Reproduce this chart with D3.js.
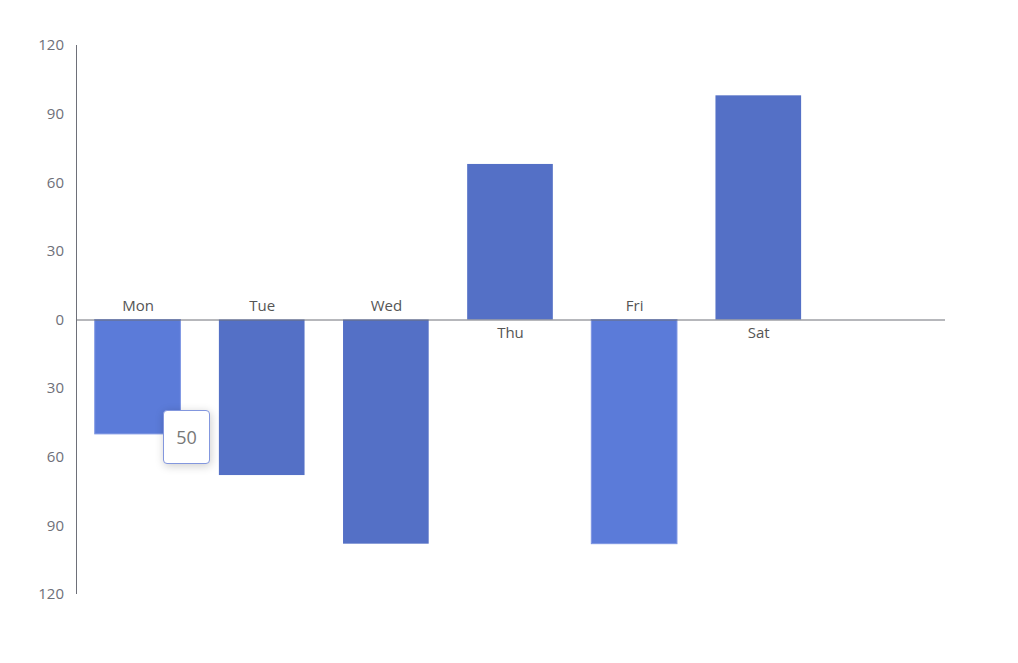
<!DOCTYPE html>
<html>
<head>
<meta charset="utf-8">
<script src="https://cdn.jsdelivr.net/npm/d3@7/dist/d3.min.js"></script>
<style>
  html, body { margin: 0; padding: 0; background: #fff; }
  #chart { position: relative; width: 1018px; height: 663px; }
  .tip {
    position: absolute; background: #fff; border: 1px solid #8397de; border-radius: 4px;
    box-shadow: 1px 2px 10px rgba(0,0,0,0.2); color: #777; font: 18px "Open Sans", sans-serif;
    display: flex; align-items: center; justify-content: center; box-sizing: border-box;
  }
</style>
</head>
<body>
<div id="chart"></div>
<script>
// Weekly values, negatives hang below the zero line
const days = ['Mon', 'Tue', 'Wed', 'Thu', 'Fri', 'Sat', 'Sun'];
const values = [-50, -68, -98, 68, -98, 98, null];
const highlighted = ['Mon', 'Fri'];
const yTicks = [-120, -90, -60, -30, 0, 30, 60, 90, 120];

const width = 1018, height = 663;
const margin = { top: 45, right: 73, bottom: 69, left: 76 };

const container = d3.select('#chart');
const svg = container.append('svg').attr('width', width).attr('height', height);

const x = d3.scaleBand()
    .domain(days)
    .range([margin.left, width - margin.right]);

const y = d3.scaleLinear()
    .domain([-120, 120])
    .range([height - margin.bottom, margin.top]);

const barW = x.bandwidth() * 0.69;
const font = '"Open Sans", sans-serif';

// bars
const data = days.map((d, i) => ({ day: d, value: values[i] })).filter(d => d.value != null);

svg.selectAll('rect.bar')
    .data(data)
    .join('rect')
    .attr('class', 'bar')
    .attr('x', d => x(d.day) + (x.bandwidth() - barW) / 2 - 0.5)
    .attr('y', d => y(Math.max(0, d.value)))
    .attr('width', barW)
    .attr('height', d => Math.abs(y(d.value) - y(0)))
    .attr('fill', d => highlighted.includes(d.day) ? '#5b7bd9' : '#5470c6')
    .attr('stroke', d => highlighted.includes(d.day) ? '#7d95e3' : 'none')
    .attr('stroke-width', 1);

// y axis line + labels (absolute values)
svg.append('line')
    .attr('x1', margin.left + 0.5).attr('x2', margin.left + 0.5)
    .attr('y1', y(120)).attr('y2', y(-120))
    .attr('stroke', '#6e7079');

svg.selectAll('text.ytick')
    .data(yTicks)
    .join('text')
    .attr('class', 'ytick')
    .attr('x', margin.left - 12)
    .attr('y', d => y(d))
    .attr('dy', '0.35em')
    .attr('text-anchor', 'end')
    .attr('fill', '#6e7079')
    .attr('font-size', '15px')
    .attr('font-family', font)
    .text(d => Math.abs(d));

// zero axis
svg.append('line')
    .attr('x1', margin.left).attr('x2', width - margin.right)
    .attr('y1', y(0) + 0.5).attr('y2', y(0) + 0.5)
    .attr('stroke', '#6e7079');

// category labels on the opposite side from each bar
svg.selectAll('text.xlab')
    .data(data)
    .join('text')
    .attr('class', 'xlab')
    .attr('x', d => x(d.day) + x.bandwidth() / 2)
    .attr('y', d => d.value < 0 ? y(0) - 14 : y(0) + 13)
    .attr('dy', '0.35em')
    .attr('text-anchor', 'middle')
    .attr('fill', '#555')
    .attr('font-size', '15px')
    .attr('font-family', font)
    .text(d => d.day);

// tooltip for Mon
const mon = data[0];
container.append('div')
    .attr('class', 'tip')
    .style('left', (x(mon.day) + x.bandwidth() / 2 + 25) + 'px')
    .style('top', (y(mon.value) - 24) + 'px')
    .style('width', '47px')
    .style('height', '54px')
    .text(Math.abs(mon.value));
</script>
</body>
</html>
